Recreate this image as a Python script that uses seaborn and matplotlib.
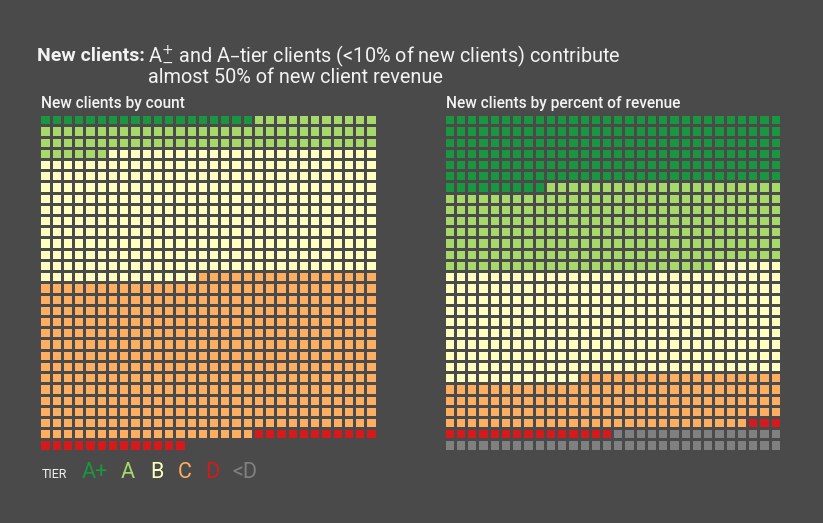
"""Waffle charts: new clients by count vs. by percent of revenue, per tier."""

import matplotlib.pyplot as plt
import numpy as np
import seaborn as sns
from matplotlib.colors import ListedColormap

# ---- data -------------------------------------------------------------
tiers = ["A+", "A", "B", "C", "D", "<D"]
# one square = one new client
count_cells = [19, 77, 338, 425, 24, 0]
# one square = 1/900 of new client revenue
revenue_cells = [189, 225, 288, 135, 18, 45]

n_rows, n_cols = 30, 30

# ---- style ------------------------------------------------------------
BG = "#4a4a4a"
FG = "#f2f2f2"
tier_colors = ["#1a9641", "#a6d96a", "#ffffbf", "#fdae61", "#d7191c", "#808080"]

sns.set_theme(style="white")
plt.rcParams["font.family"] = ["Roboto", "DejaVu Sans"]

W, H = 823, 523


def waffle_matrix(cells):
    codes = np.repeat(np.arange(len(cells)), cells).astype(float)
    full = np.full(n_rows * n_cols, np.nan)
    full[: len(codes)] = codes
    return full.reshape(n_rows, n_cols)


def draw_waffle(ax, cells):
    mat = waffle_matrix(cells)
    sns.heatmap(
        mat,
        mask=np.isnan(mat),
        cmap=ListedColormap(tier_colors),
        vmin=-0.5,
        vmax=len(tier_colors) - 0.5,
        cbar=False,
        linewidths=2.05,
        linecolor=BG,
        xticklabels=False,
        yticklabels=False,
        ax=ax,
    )
    ax.set_facecolor(BG)
    ax.axis("off")


def px_axes(fig, left, top, right, bottom):
    return fig.add_axes([left / W, 1 - bottom / H, (right - left) / W, (bottom - top) / H])


fig = plt.figure(figsize=(W / 100, H / 100), dpi=100, facecolor=BG)

ax_left = px_axes(fig, 39.4, 114.1, 376.6, 450.6)
ax_right = px_axes(fig, 443.7, 114.1, 780.8, 450.6)
draw_waffle(ax_left, count_cells)
draw_waffle(ax_right, revenue_cells)


def ftext(x, y, s, **kw):
    kw.setdefault("color", FG)
    kw.setdefault("va", "baseline")
    return fig.text(x / W, 1 - y / H, s, **kw)


# title
ftext(37, 61, "New clients:", fontsize=14.0, weight="bold")
ftext(148, 61, r"A$^{+}_{-}$ and A–tier clients (<10% of new clients) contribute", fontsize=14.3)
ftext(148, 83, "almost 50% of new client revenue", fontsize=14.3)

# panel titles
ftext(41, 108, "New clients by count", fontsize=11.2, weight="medium")
ftext(446, 108, "New clients by percent of revenue", fontsize=11.2, weight="medium")

# legend
ftext(42, 478, "TIER", fontsize=9)
legend_x = [82, 121, 150, 178, 205, 232]
for x, label, color in zip(legend_x, tiers, tier_colors):
    ftext(x, 478, label, fontsize=15.5, color=color)

fig.savefig("out.png", dpi=100, facecolor=BG)
